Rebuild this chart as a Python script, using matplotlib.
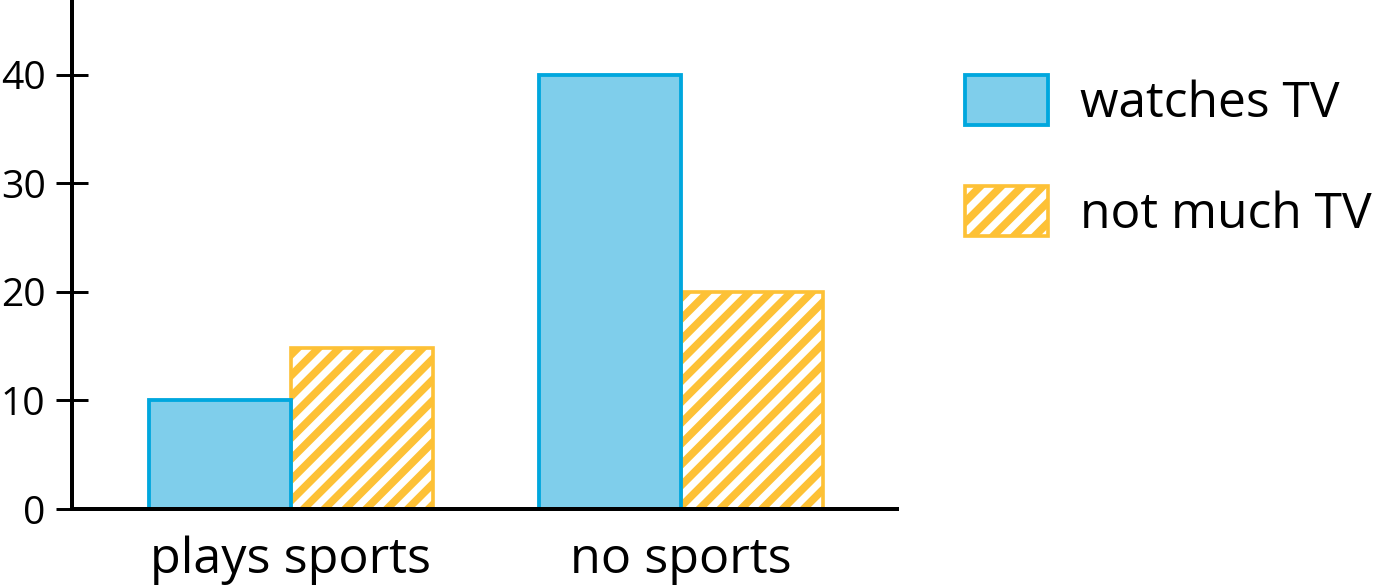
import matplotlib
matplotlib.use("Agg")
import matplotlib.pyplot as plt
from matplotlib.patches import Patch
import numpy as np

categories = ["plays sports", "no sports"]
series_names = ["watches TV", "not much TV"]
watches_tv = [10, 40]
not_much_tv = [14.8, 20]
y_ticks = [0, 10, 20, 30, 40]

BLUE_FILL = "#7FCEEB"
BLUE_EDGE = "#00A7DE"
ORANGE = "#FDC136"

DPI = 125
plt.rcParams['font.family'] = ['Open Sans', 'DejaVu Sans']
plt.rcParams['hatch.linewidth'] = 4.4

fig = plt.figure(figsize=(1374 / DPI, 588 / DPI), dpi=DPI)
ax = fig.add_axes([72 / 1374, 1 - 509 / 588, (897 - 72) / 1374, 509 / 588])

x = np.arange(len(categories))
w = 0.365
ax.bar(x - w / 2, watches_tv, width=w, facecolor=BLUE_FILL, edgecolor=BLUE_EDGE,
       linewidth=2.2, zorder=3, label=series_names[0])
ax.bar(x + w / 2, not_much_tv, width=w, facecolor="white", edgecolor=ORANGE,
       hatch="//", linewidth=2.1, zorder=2, label=series_names[1])

ax.set_xlim(-0.5615, 1.554)
ax.set_ylim(0, 46.9)
ax.set_xticks(x)
ax.set_xticklabels(categories, fontsize=29)
ax.set_yticks(y_ticks)
ax.set_yticklabels([str(t) for t in y_ticks], fontsize=22.5)
ax.tick_params(axis='x', length=0, pad=15)
ax.tick_params(axis='y', direction='inout', length=18.4, width=1.7, pad=6)

for s in ['top', 'right']:
    ax.spines[s].set_visible(False)
for s in ['left', 'bottom']:
    ax.spines[s].set_linewidth(2.3)
    ax.spines[s].set_zorder(4)

handles = [
    Patch(facecolor=BLUE_FILL, edgecolor=BLUE_EDGE, linewidth=2.2, label=series_names[0]),
    Patch(facecolor="white", edgecolor=ORANGE, hatch="//", linewidth=2.1, label=series_names[1]),
]
fig.legend(handles=handles, loc='upper left', bbox_to_anchor=(965 / 1374, 1 - 75 / 588),
           frameon=False, fontsize=28.7, handlelength=1.67, handleheight=1.17,
           handletextpad=0.64, labelspacing=1.15, borderaxespad=0, borderpad=0)

fig.savefig("out.png", dpi=DPI)
